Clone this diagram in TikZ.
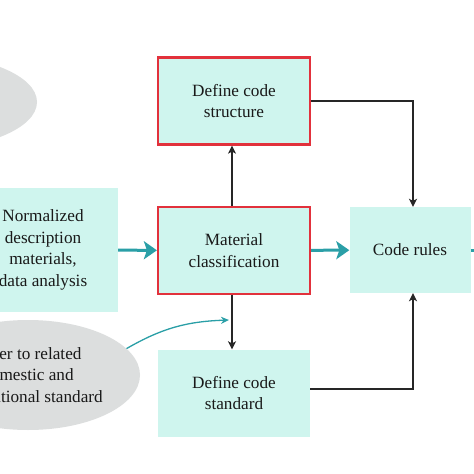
\documentclass[tikz,border=0pt]{standalone}
\usepackage{fontspec}
\setmainfont{Liberation Serif}
\usetikzlibrary{arrows.meta,shapes.geometric}
\definecolor{mint}{HTML}{CFF5EE}
\definecolor{boxred}{HTML}{E2313C}
\definecolor{flowteal}{HTML}{2A9FA7}
\definecolor{cloud}{HTML}{DCDEDE}
\tikzset{
  box/.style={fill=mint, minimum width=152pt, minimum height=87pt, align=center,
    inner sep=0pt, font=\fontsize{17.2}{21.5}\selectfont, text=black!90},
  redbox/.style={box, draw=boxred, line width=2.2pt},
  flow/.style={draw=flowteal, line width=3pt, -{Stealth[length=13pt,width=18pt,inset=3pt]}},
  link/.style={draw=black!85, line width=1.3pt, -{Stealth[length=8pt,width=8pt,inset=2pt]}},
}
\begin{document}
\begin{tikzpicture}[x=1pt,y=-1pt]
  \clip (0,0) rectangle (474,474);
  \fill[white] (0,0) rectangle (474,474);
  % grey notes on the left
  \node[ellipse, fill=cloud, minimum width=234pt, minimum height=96pt, inner sep=0pt] (note) at (-80,102) {};
  \node[ellipse, fill=cloud, minimum width=224pt, minimum height=110pt, inner sep=0pt,
    align=center, font=\fontsize{17.2}{21.5}\selectfont, text=black!90] (ref) at (28,375)
    {Refer to related\\ domestic and\\ international standard};
  % boxes
  \node[box, minimum width=150pt, minimum height=124pt] (input) at (43,250)
    {Normalized\\ description\\ materials,\\ data analysis};
  \node[redbox] (struct) at (234,101) {Define code\\ structure};
  \node[redbox] (class) at (234,250.5) {Material\\ classification};
  \node[box] (std) at (234,393) {Define code\\ standard};
  \node[box, minimum width=121pt, minimum height=86pt] (rules) at (410,250) {Code rules};
  \coordinate (out) at (480,250);
  % connectors
  \draw[flow] (input) -- (class);
  \draw[flow] (class) -- (rules);
  \draw[draw=flowteal, line width=3pt] (rules) -- (out);
  \draw[link] ([xshift=-2pt]class.north) -- ([xshift=-2pt]struct.south);
  \draw[link] ([xshift=-2pt]class.south) -- ([xshift=-2pt]std.north);
  \draw[link] (struct.east) -| ([xshift=3pt]rules.north);
  \draw[link] ([yshift=4pt]std.east) -| ([xshift=3pt]rules.south);
  \draw[draw=flowteal, line width=1.3pt, -{Stealth[length=8pt,width=7pt]}]
    (ref.15) to[out=30,in=182] (229,320);
\end{tikzpicture}
\end{document}
